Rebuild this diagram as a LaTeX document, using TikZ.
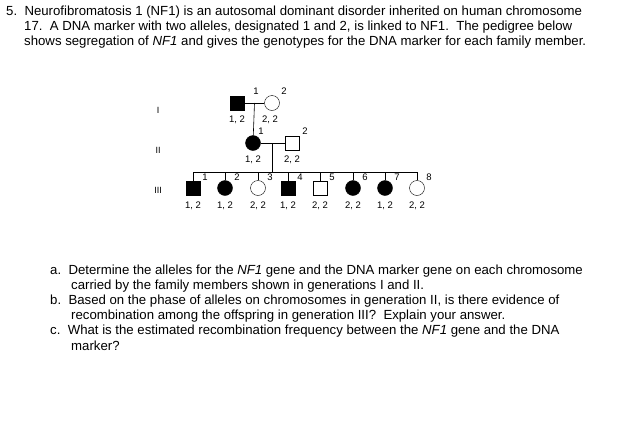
\documentclass[tikz,border=0pt]{standalone}
\usepackage{fontspec}
\setmainfont{Liberation Sans}
\begin{document}
\begin{tikzpicture}[x=1pt,y=-1pt,
  txt/.style={anchor=west,inner sep=0pt,font=\fontsize{13.2}{15}\selectfont},
  male/.style={draw,rectangle,minimum size=14pt,inner sep=0pt},
  female/.style={draw,circle,minimum size=15pt,inner sep=0pt},
  aff/.style={fill=black},
  geno/.style={font=\fontsize{9.5}{10}\selectfont,inner sep=0pt},
  num/.style={font=\fontsize{9.5}{10}\selectfont,inner sep=0pt},
  gen/.style={font=\fontsize{9}{10}\selectfont,inner sep=0pt},
  ln/.style={draw,line width=0.6pt}]
\useasboundingbox (0,0) rectangle (631,426);
\node[txt] (t1) at (6,12) {5.\ \ Neurofibromatosis 1 (NF1) is an autosomal dominant disorder inherited on human chromosome};
\node[txt] (t2) at (24,27) {17.\ \ A DNA marker with two alleles, designated 1 and 2, is linked to NF1.\ \ The pedigree below};
\node[txt] (t3) at (24,42) {shows segregation of \textit{NF1} and gives the genotypes for the DNA marker for each family member.};
\node[male,aff] (i1) at (237,103) {};
\node[female] (i2) at (272,103) {};
\draw[ln] (i1) -- (i2);
\coordinate (m1) at (254.5,103);
\node[female,aff] (ii1) at (253,143) {};
\node[male] (ii2) at (292,143) {};
\draw[ln] (ii1) -- (ii2);
\coordinate (m2) at (272.5,143);
\draw[ln] (m1) -- (ii1);
\node[gen] (g1) at (158,110) {I};
\node[gen] (g2) at (158,150) {II};
\node[gen] (g3) at (158,190) {III};
\node[num] (n11) at (256,91) {1};
\node[num] (n12) at (284,91) {2};
\node[geno] (gi1) at (237,120) {1, 2};
\node[geno] (gi2) at (270,120) {2, 2};
\node[num] (n21) at (261,131) {1};
\node[num] (n22) at (305,131) {2};
\node[geno] (gii1) at (253,160) {1, 2};
\node[geno] (gii2) at (292,160) {2, 2};
\coordinate (sl) at (193,172);
\coordinate (sr) at (417,172);
\coordinate (sm) at (272.5,172);
\draw[ln] (m2) -- (sm);
\draw[ln] (sl) -- (sr);
\foreach \x/\s/\a/\g/\n in {193/male/aff/{1, 2}/1, 225/female/aff/{1, 2}/2, 258/female//{2, 2}/3, 288/male/aff/{1, 2}/4, 320/male//{2, 2}/5, 353/female/aff/{2, 2}/6, 385/female/aff/{1, 2}/7, 417/female//{2, 2}/8}{
  \node[\s,\a] (iii\n) at (\x,188) {};
  \coordinate (c\n) at (\x,172);
  \draw[ln] (c\n) -- (iii\n);
  \node[num] (nn\n) at (\x+12,177) {\n};
  \node[geno] (gg\n) at (\x,206) {\g};
}
\node[txt] (a1) at (50,271) {a.\ \ Determine the alleles for the \textit{NF1} gene and the DNA marker gene on each chromosome};
\node[txt] (a2) at (71,286) {carried by the family members shown in generations I and II.};
\node[txt] (b1) at (50,301) {b.\ \ Based on the phase of alleles on chromosomes in generation II, is there evidence of};
\node[txt] (b2) at (71,316) {recombination among the offspring in generation III?\ \ Explain your answer.};
\node[txt] (c1) at (50,331) {c.\ \ What is the estimated recombination frequency between the \textit{NF1} gene and the DNA};
\node[txt] (c2) at (71,346) {marker?};
\end{tikzpicture}
\end{document}
